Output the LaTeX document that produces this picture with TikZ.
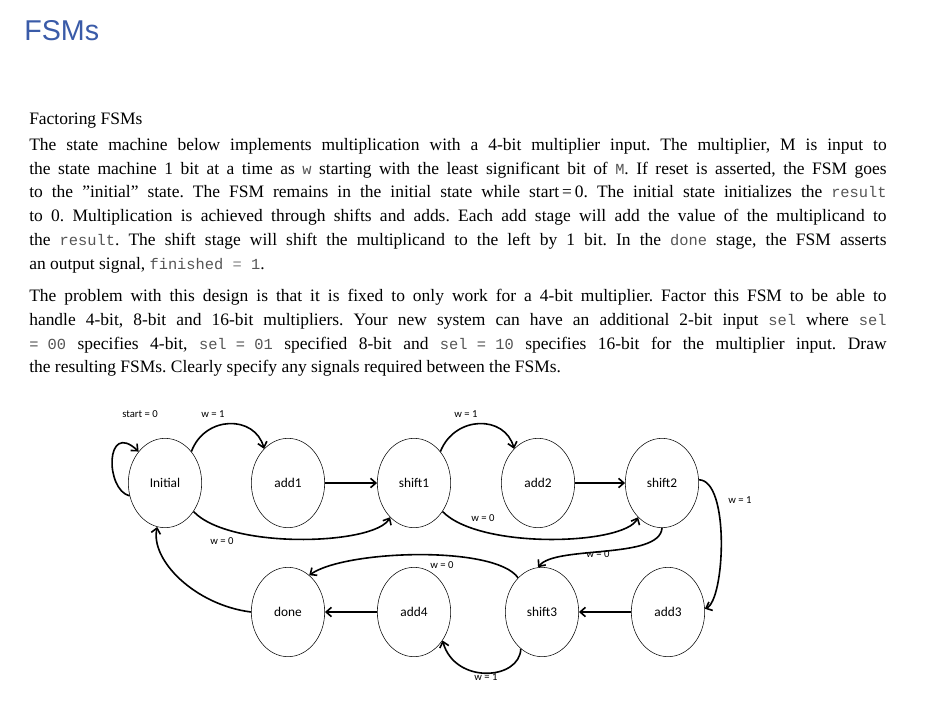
\documentclass[tikz,border=0pt]{standalone}
\usepackage{fontspec}
\setmainfont{Liberation Serif}
\setmonofont[Scale=0.88]{Liberation Mono}
\newfontfamily\titlefont{Liberation Sans}
\newfontfamily\diafont{Carlito}
\usetikzlibrary{arrows.meta,shapes.geometric}
\definecolor{titleblue}{HTML}{3A5BA8}
\definecolor{codegray}{HTML}{555555}
\newcommand{\cd}[1]{{\ttfamily\color{codegray}#1}}
\frenchspacing
\begin{document}
\begin{tikzpicture}[x=0.75pt,y=-0.75pt,
  st/.style={draw,ellipse,minimum width=55pt,minimum height=67pt,font=\diafont\fontsize{10}{12}\selectfont,line width=0.4pt},
  tr/.style={line width=1.2pt,-{Straight Barb[length=4pt,width=7pt]}},
  lb/.style={font=\diafont\fontsize{8}{9}\selectfont},
  body/.style={anchor=north west,inner sep=0pt,text width=643pt,align=justify,font=\fontsize{13.1}{17.8}\selectfont}]
\useasboundingbox (0,0) rectangle (945,710);
\node[anchor=west,inner sep=0pt,font=\titlefont\fontsize{21.5}{24}\selectfont,text=titleblue] (title) at (24,31) {FSMs};
\node[anchor=west,inner sep=0pt,font=\fontsize{13.1}{18}\selectfont] (fac) at (29,121) {Factoring FSMs};
\node[body] (p1) at (29,138) {The state machine below implements multiplication with a 4-bit multiplier input. The multiplier, M is input to\linebreak the state machine 1 bit at a time as \cd{w} starting with the least significant bit of \cd{M}. If reset is asserted, the FSM goes\linebreak to the ”initial” state. The FSM remains in the initial state while start\,=\,0. The initial state initializes the \cd{result}\linebreak to 0. Multiplication is achieved through shifts and adds. Each add stage will add the value of the multiplicand to\linebreak the \cd{result}. The shift stage will shift the multiplicand to the left by 1 bit. In the \cd{done} stage, the FSM asserts\linebreak an output signal, \cd{finished {\color{gray}=} 1}.};
\node[body] (p2) at (29,289) {The problem with this design is that it is fixed to only work for a 4-bit multiplier. Factor this FSM to be able to\linebreak handle 4-bit, 8-bit and 16-bit multipliers. Your new system can have an additional 2-bit input \cd{sel} where \cd{sel}\linebreak \cd{= 00} specifies 4-bit, \cd{sel = 01} specified 8-bit and \cd{sel = 10} specifies 16-bit for the multiplier input. Draw\linebreak the resulting FSMs. Clearly specify any signals required between the FSMs.};
% states
\node[st] (ini) at (165,483) {Initial};
\node[st] (a1) at (288,483) {add1};
\node[st] (s1) at (414,483) {shift1};
\node[st] (a2) at (538,483) {add2};
\node[st] (s2) at (662,483) {shift2};
\node[st] (a3) at (668,612) {add3};
\node[st] (s3) at (542,612) {shift3};
\node[st] (a4) at (414,612) {add4};
\node[st] (dn) at (288,612) {done};
% transitions
\draw[tr] (ini.200) .. controls (105,490) and (105,420) .. (ini.130);
\draw[tr] (ini.50) .. controls (205,415) and (255,415) .. (a1.125);
\draw[tr] (ini.-45) .. controls (230,550) and (375,545) .. (s1.-125);
\draw[tr] (a1) -- (s1);
\draw[tr] (s1.50) .. controls (455,415) and (505,415) .. (a2.125);
\draw[tr] (s1.-45) .. controls (480,550) and (625,545) .. (s2.-125);
\draw[tr] (a2) -- (s2);
\draw[tr] (s2.5) .. controls (730,480) and (725,600) .. (a3.5);
\draw[tr] (s2.-90) .. controls (660,560) and (555,545) .. (s3.95);
\draw[tr] (s3.125) .. controls (495,545) and (345,550) .. (dn.60);
\draw[tr] (a3) -- (s3);
\draw[tr] (s3.-120) .. controls (520,680) and (455,685) .. (a4.-45);
\draw[tr] (a4) -- (dn);
\draw[tr] (dn.180) .. controls (195,605) and (150,560) .. (ini.-100);
% labels
\node[lb] (l1) at (140,414) {start = 0};
\node[lb] (l2) at (213,414) {w = 1};
\node[lb] (l3) at (222,541) {w = 0};
\node[lb] (l4) at (466,414) {w = 1};
\node[lb] (l5) at (483,518) {w = 0};
\node[lb] (l6) at (740,500) {w = 1};
\node[lb] (l7) at (598,554) {w = 0};
\node[lb] (l8) at (442,565) {w = 0};
\node[lb] (l9) at (486,677) {w = 1};
\end{tikzpicture}
\end{document}
